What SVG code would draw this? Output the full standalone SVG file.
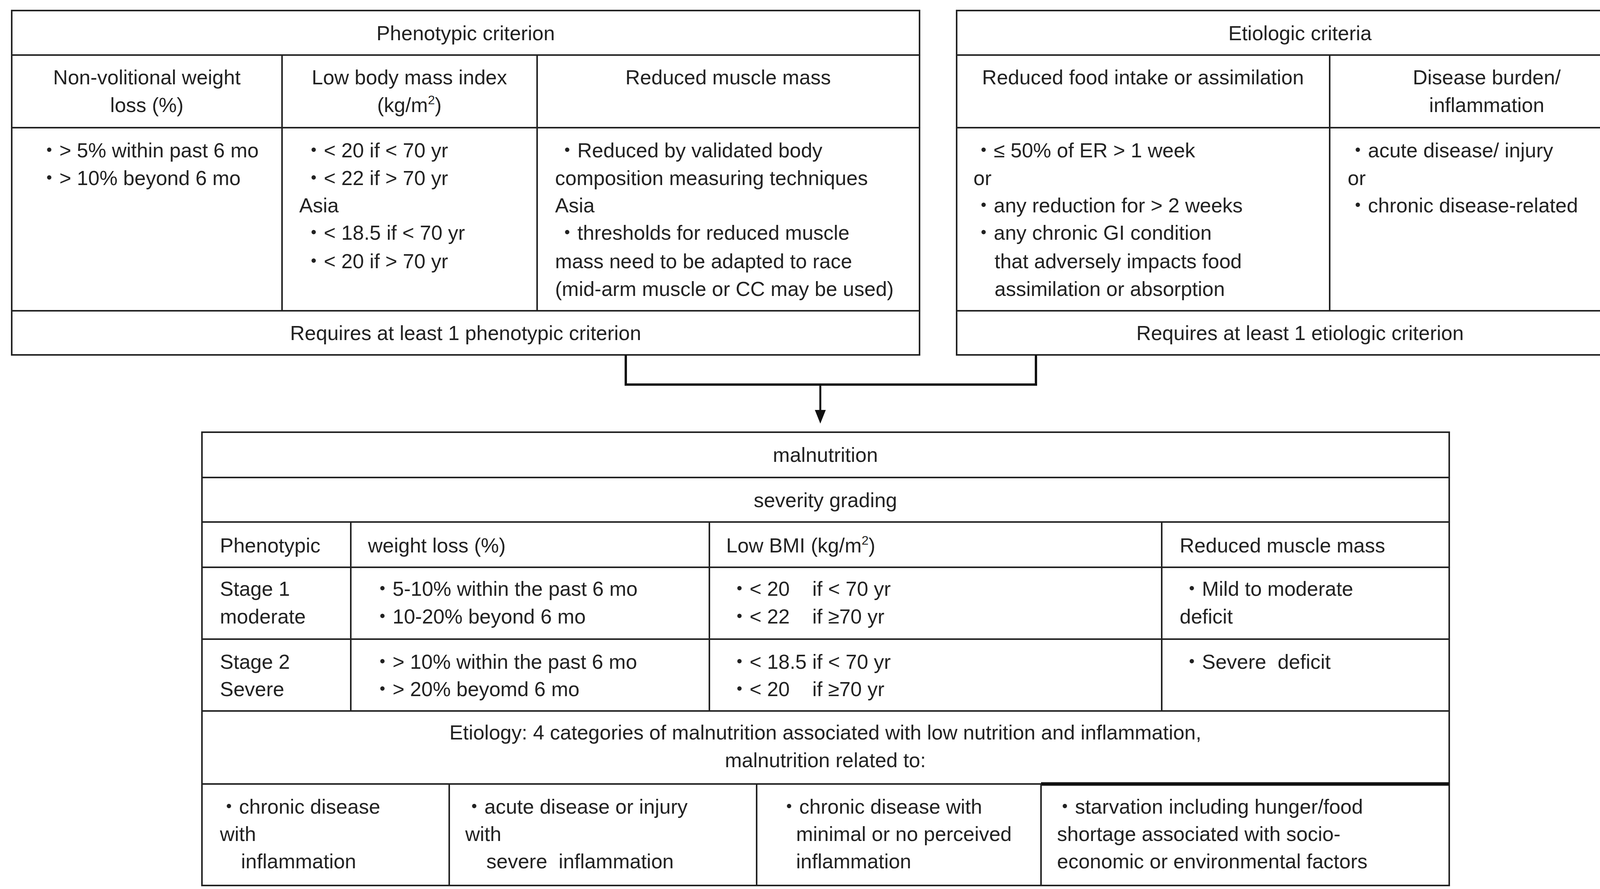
<svg xmlns="http://www.w3.org/2000/svg" width="4230" height="2277" viewBox="0 0 4230 2277">
<style>
text{font-family:"Liberation Sans","Noto Sans CJK JP",sans-serif;font-size:52px;fill:#222;white-space:pre}
.c{text-anchor:middle}
.b{fill:none;stroke:#222;stroke-width:4}
.t{stroke:#222;stroke-width:4}
.sup{font-size:32px}
</style>
<rect width="4230" height="2277" fill="#fff"/>
<g id="phenotypic">
<rect class="b" x="30" y="27" width="2324" height="882"/>
<line class="t" x1="30" y1="141" x2="2354" y2="141"/>
<line class="t" x1="30" y1="327" x2="2354" y2="327"/>
<line class="t" x1="30" y1="796" x2="2354" y2="796"/>
<line class="t" x1="722" y1="141" x2="722" y2="796"/>
<line class="t" x1="1375" y1="141" x2="1375" y2="796"/>
<text class="c" x="1192" y="103">Phenotypic criterion</text>
<text class="c" x="376" y="216">Non-volitional weight</text>
<text class="c" x="376" y="287">loss (%)</text>
<text class="c" x="1048" y="216">Low body mass index</text>
<text class="c" x="1048" y="287">(kg/m<tspan class="sup" dy="-20">2</tspan><tspan dy="20">)</tspan></text>
<text class="c" x="1864" y="216">Reduced muscle mass</text>
<text x="100" y="403">・&gt; 5% within past 6 mo</text>
<text x="100" y="474">・&gt; 10% beyond 6 mo</text>
<text x="777" y="403">・&lt; 20 if &lt; 70 yr</text>
<text x="777" y="474">・&lt; 22 if &gt; 70 yr</text>
<text x="766" y="544">Asia</text>
<text x="777" y="614">・&lt; 18.5 if &lt; 70 yr</text>
<text x="777" y="687">・&lt; 20 if &gt; 70 yr</text>
<text x="1426" y="403">・Reduced by validated body</text>
<text x="1421" y="474">composition measuring techniques</text>
<text x="1421" y="544">Asia</text>
<text x="1426" y="614">・thresholds for reduced muscle</text>
<text x="1421" y="687">mass need to be adapted to race</text>
<text x="1421" y="758">(mid-arm muscle or CC may be used)</text>
<text class="c" x="1192" y="871">Requires at least 1 phenotypic criterion</text>
</g>
<g id="etiologic">
<rect class="b" x="2449" y="27" width="1759" height="882"/>
<line class="t" x1="2449" y1="141" x2="4208" y2="141"/>
<line class="t" x1="2449" y1="327" x2="4208" y2="327"/>
<line class="t" x1="2449" y1="796" x2="4208" y2="796"/>
<line class="t" x1="3404" y1="141" x2="3404" y2="796"/>
<text class="c" x="3328" y="103">Etiologic criteria</text>
<text class="c" x="2926" y="216">Reduced food intake or assimilation</text>
<text class="c" x="3806" y="216">Disease burden/</text>
<text class="c" x="3806" y="287">inflammation</text>
<text x="2492" y="403">・≤ 50% of ER &gt; 1 week</text>
<text x="2492" y="474">or</text>
<text x="2492" y="544">・any reduction for &gt; 2 weeks</text>
<text x="2492" y="614">・any chronic GI condition</text>
<text x="2546" y="687">that adversely impacts food</text>
<text x="2546" y="758">assimilation or absorption</text>
<text x="3450" y="403">・acute disease/ injury</text>
<text x="3450" y="474">or</text>
<text x="3450" y="544">・chronic disease-related</text>
<text class="c" x="3328" y="871">Requires at least 1 etiologic criterion</text>
</g>
<g id="connectors">
<polyline points="1602,909 1602,985 2652,985 2652,909" fill="none" stroke="#111" stroke-width="6"/>
<line x1="2100" y1="985" x2="2100" y2="1060" stroke="#111" stroke-width="5"/>
<path d="M2086,1050L2114,1050L2100,1085z" fill="#111"/>
</g>
<g id="malnutrition">
<rect class="b" x="517" y="1107" width="3193" height="1161"/>
<line class="t" x1="517" y1="1223" x2="3710" y2="1223"/>
<line class="t" x1="517" y1="1337" x2="3710" y2="1337"/>
<line class="t" x1="517" y1="1453" x2="3710" y2="1453"/>
<line class="t" x1="517" y1="1637" x2="3710" y2="1637"/>
<line class="t" x1="517" y1="1821" x2="3710" y2="1821"/>
<line class="t" x1="517" y1="2008" x2="3710" y2="2008"/>
<line x1="2665" y1="2008" x2="3710" y2="2008" stroke="#111" stroke-width="9"/>
<line class="t" x1="898" y1="1337" x2="898" y2="1821"/>
<line class="t" x1="1816" y1="1337" x2="1816" y2="1821"/>
<line class="t" x1="2974" y1="1337" x2="2974" y2="1821"/>
<line class="t" x1="1150" y1="2008" x2="1150" y2="2268"/>
<line class="t" x1="1937" y1="2008" x2="1937" y2="2268"/>
<line class="t" x1="2665" y1="2008" x2="2665" y2="2268"/>
<text class="c" x="2113" y="1183">malnutrition</text>
<text class="c" x="2113" y="1299">severity grading</text>
<text x="563" y="1415">Phenotypic</text>
<text x="942" y="1415">weight loss (%)</text>
<text x="1859" y="1415">Low BMI (kg/m<tspan class="sup" dy="-20">2</tspan><tspan dy="20">)</tspan></text>
<text x="3020" y="1415">Reduced muscle mass</text>
<text x="563" y="1526">Stage 1</text>
<text x="563" y="1597">moderate</text>
<text x="953" y="1526">・5-10% within the past 6 mo</text>
<text x="953" y="1597">・10-20% beyond 6 mo</text>
<text x="1867" y="1526">・&lt; 20    if &lt; 70 yr</text>
<text x="1867" y="1597">・&lt; 22    if ≥70 yr</text>
<text x="3025" y="1526">・Mild to moderate</text>
<text x="3020" y="1597">deficit</text>
<text x="563" y="1713">Stage 2</text>
<text x="563" y="1783">Severe</text>
<text x="953" y="1713">・&gt; 10% within the past 6 mo</text>
<text x="953" y="1783">・&gt; 20% beyomd 6 mo</text>
<text x="1867" y="1713">・&lt; 18.5 if &lt; 70 yr</text>
<text x="1867" y="1783">・&lt; 20    if ≥70 yr</text>
<text x="3025" y="1713">・Severe  deficit</text>
<text class="c" x="2113" y="1894">Etiology: 4 categories of malnutrition associated with low nutrition and inflammation,</text>
<text class="c" x="2113" y="1965">malnutrition related to:</text>
<text x="560" y="2084">・chronic disease</text>
<text x="563" y="2154">with</text>
<text x="617" y="2224">inflammation</text>
<text x="1188" y="2084">・acute disease or injury</text>
<text x="1191" y="2154">with</text>
<text x="1245" y="2224">severe  inflammation</text>
<text x="1994" y="2084">・chronic disease with</text>
<text x="2038" y="2154">minimal or no perceived</text>
<text x="2038" y="2224">inflammation</text>
<text x="2700" y="2084">・starvation including hunger/food</text>
<text x="2706" y="2154">shortage associated with socio-</text>
<text x="2706" y="2224">economic or environmental factors</text>
</g>
</svg>
